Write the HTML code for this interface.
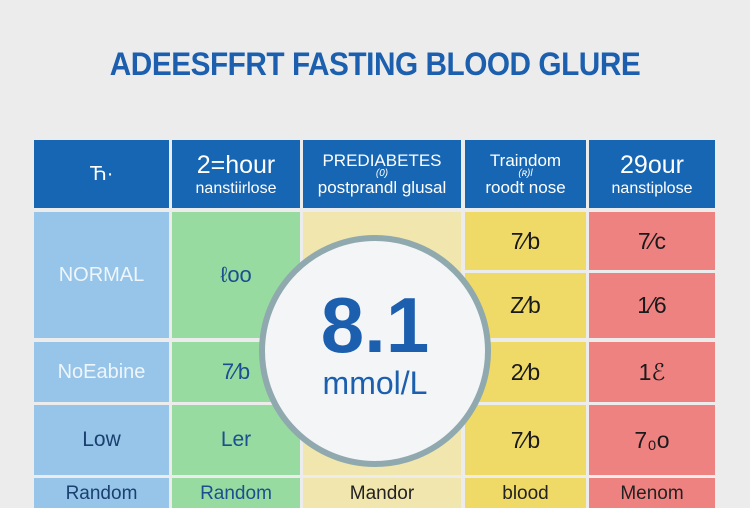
<!DOCTYPE html>
<html><head><meta charset="utf-8"><style>
body{margin:0;width:750px;height:500px;background:#ececec;overflow:hidden;position:relative;font-family:"Liberation Sans",sans-serif}
.t{position:absolute;left:0;width:750px;top:46px;text-align:center;color:#1b5fae;font-size:32px;font-weight:bold;letter-spacing:-0.5px;transform:scaleX(0.93)}
.c{position:absolute;display:flex;flex-direction:column;align-items:center;justify-content:center;text-align:center}
.h{background:#1766b3;color:#fff}
.b1{background:#96c5e9}.b2{background:#97dba0}.b3{background:#f1e6ad}.b4{background:#efda68}.b5{background:#ee8281}
.v{font-size:23px;color:#1a1a1a}
.bt{justify-content:flex-start;padding-top:5px;box-sizing:border-box;font-size:19px}
</style></head><body>
<div class="t">ADEESFFRT FASTING BLOOD GLURE</div>
<div class="c h" style="left:34px;top:140px;width:135px;height:68px;font-size:20px">Ћ·</div>
<div class="c h" style="left:172px;top:140px;width:128px;height:68px"><span style="font-size:25px">2=hour</span><span style="font-size:16px">nanstiirlose</span></div>
<div class="c h" style="left:303px;top:140px;width:158px;height:68px;line-height:1"><span style="font-size:17px">PREDIABETES</span><span style="font-size:10px;font-style:italic">(0)</span><span style="font-size:17px">postprandl glusal</span></div>
<div class="c h" style="left:465px;top:140px;width:121px;height:68px;line-height:1"><span style="font-size:17px">Traindom</span><span style="font-size:10px;font-style:italic">(ʀ)l</span><span style="font-size:17px">roodt nose</span></div>
<div class="c h" style="left:589px;top:140px;width:126px;height:68px"><span style="font-size:25px">29our</span><span style="font-size:16px">nanstiplose</span></div>
<div class="c b1" style="left:34px;top:212px;width:135px;height:126px;color:#eef5fb;font-size:20px">NORMAL</div>
<div class="c b2" style="left:172px;top:212px;width:128px;height:126px;color:#1b4f8f;font-size:22px">ℓoo</div>
<div class="c b3" style="left:303px;top:212px;width:158px;height:126px"></div>
<div class="c b1" style="left:34px;top:342px;width:135px;height:60px;color:#eef5fb;font-size:20px">NoEabine</div>
<div class="c b2" style="left:172px;top:342px;width:128px;height:60px;color:#1b4f8f;font-size:22px">7⁄b</div>
<div class="c b3" style="left:303px;top:342px;width:158px;height:60px"></div>
<div class="c b1" style="left:34px;top:405px;width:135px;height:70px;color:#1b3f6e;font-size:21px">Low</div>
<div class="c b2" style="left:172px;top:405px;width:128px;height:70px;color:#1b4f8f;font-size:21px">Ler</div>
<div class="c b3" style="left:303px;top:405px;width:158px;height:70px"></div>
<div class="c b4 v" style="left:465px;top:212px;width:121px;height:58px">7⁄b</div>
<div class="c b5 v" style="left:589px;top:212px;width:126px;height:58px">7⁄c</div>
<div class="c b4 v" style="left:465px;top:273px;width:121px;height:65px">Z⁄b</div>
<div class="c b5 v" style="left:589px;top:273px;width:126px;height:65px">1⁄6</div>
<div class="c b4 v" style="left:465px;top:342px;width:121px;height:60px">2⁄b</div>
<div class="c b5 v" style="left:589px;top:342px;width:126px;height:60px">1ℰ</div>
<div class="c b4 v" style="left:465px;top:405px;width:121px;height:70px">7⁄b</div>
<div class="c b5 v" style="left:589px;top:405px;width:126px;height:70px">7₀o</div>
<div class="c b1 bt" style="left:34px;top:478px;width:135px;height:30px;color:#1b3f6e">Random</div>
<div class="c b2 bt" style="left:172px;top:478px;width:128px;height:30px;color:#1b4f8f">Random</div>
<div class="c b3 bt" style="left:303px;top:478px;width:158px;height:30px;color:#222">Mandor</div>
<div class="c b4 bt" style="left:465px;top:478px;width:121px;height:30px;color:#222">blood</div>
<div class="c b5 bt" style="left:589px;top:478px;width:126px;height:30px;color:#222">Menom</div>
<div style="position:absolute;left:259px;top:235px;width:220px;height:220px;border-radius:50%;border:6px solid #8fa9ae;background:#f3f5f7"></div>
<div class="c" style="left:259px;top:235px;width:232px;height:232px;color:#1b5fae">
<span style="font-size:78px;font-weight:bold;line-height:1;margin-top:-14px">8.1</span>
<span style="font-size:32px;line-height:1.2">mmol/L</span></div>
</body></html>
